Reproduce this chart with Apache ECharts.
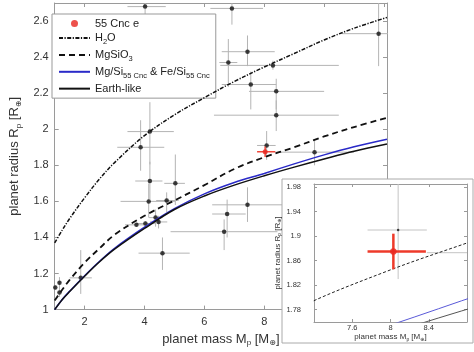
<!DOCTYPE html>
<html>
<head>
<meta charset="utf-8">
<script src="https://cdn.jsdelivr.net/npm/echarts@6.0.0/dist/echarts.min.js"></script>
<style>
  html, body { margin: 0; padding: 0; background: #fff; }
  #chart { width: 474px; height: 352px; }
</style>
</head>
<body>
<div id="chart"></div>
<script>
// mass-radius curves
const curveMass    = [1, 1.25, 1.5, 2, 2.5, 3, 4, 5, 6, 7, 8, 9, 10, 11, 12.1];
const radiusH2O    = [1.37, 1.44, 1.505, 1.62, 1.725, 1.815, 1.965, 2.08, 2.175, 2.265, 2.345, 2.42, 2.495, 2.56, 2.62];
const radiusMgSiO3 = [1.05, 1.11, 1.165, 1.26, 1.34, 1.415, 1.52, 1.605, 1.69, 1.78, 1.845, 1.9, 1.96, 2.012, 2.064];
const radiusMgSi55 = [1.0, 1.056, 1.102, 1.188, 1.268, 1.34, 1.457, 1.56, 1.642, 1.705, 1.755, 1.808, 1.858, 1.903, 1.945];
const radiusEarth  = [1.0, 1.055, 1.10, 1.185, 1.265, 1.335, 1.45, 1.555, 1.63, 1.69, 1.742, 1.79, 1.835, 1.878, 1.918];

// known planets with error bounds
const planetMass   = [1.02, 1.16, 1.16, 1.87, 4.18, 3.87, 4.18, 5.03, 4.14, 4.74, 3.73, 4.03, 4.37, 4.47, 4.60, 6.76, 6.66, 7.44, 8.40, 8.40, 8.29, 6.80, 7.55, 7.44, 6.92, 4.02, 11.82, 8.08, 9.68];
const planetRadius = [1.122, 1.149, 1.095, 1.176, 1.987, 1.90, 1.713, 1.70, 1.60, 1.605, 1.47, 1.477, 1.51, 1.486, 1.313, 1.53, 1.432, 1.581, 2.078, 2.21, 2.354, 2.37, 2.248, 2.43, 2.67, 2.68, 2.53, 1.91, 1.873];
const massLow      = [0.99, 1.12, 1.12, 1.50, 3.43, 3.09, 3.69, 4.66, 3.20, 4.39, 3.35, 3.75, 4.15, 4.18, 3.80, 6.26, 4.87, 6.26, 6.32, 7.49, 6.53, 6.50, 6.58, 6.58, 6.20, 3.43, 10.6, 7.76, 8.38];
const massHigh     = [1.05, 1.20, 1.20, 2.24, 4.98, 4.66, 4.60, 5.35, 5.03, 5.14, 4.05, 4.35, 4.60, 4.76, 5.51, 7.38, 8.44, 8.61, 10.49, 10.0, 10.49, 7.10, 8.40, 8.35, 7.96, 4.71, 13.0, 8.38, 11.0];
const radiusLow    = [1.11, 1.12, 1.07, 1.087, 1.805, 1.77, 1.61, 1.58, 1.51, 1.54, 1.46, 1.465, 1.46, 1.45, 1.22, 1.40, 1.33, 1.486, 1.99, 2.11, 2.33, 2.235, 2.11, 2.35, 2.58, 2.61, 2.35, 1.83, 1.80];
const radiusHigh   = [1.135, 1.18, 1.12, 1.33, 2.15, 2.05, 1.82, 1.86, 1.70, 1.65, 1.48, 1.49, 1.555, 1.52, 1.40, 1.61, 1.50, 1.678, 2.16, 2.28, 2.38, 2.50, 2.32, 2.52, 2.75, 2.75, 2.70, 1.99, 1.94];

// 55 Cnc e
const cncMass = [8.03], cncRadius = [1.875];
const cncMassLow = [7.76], cncMassHigh = [8.37];
const cncRadiusLow = [1.846], cncRadiusHigh = [1.904];

// ticks
const xTicks = [2, 4, 6, 8, 10, 12];
const yTicks = [1, 1.2, 1.4, 1.6, 1.8, 2, 2.2, 2.4, 2.6];
const insetXTicks = [7.6, 8, 8.4];
const insetYTicks = [1.78, 1.82, 1.86, 1.9, 1.94, 1.98];

const FONT = '"Liberation Sans", "DejaVu Sans", sans-serif';
const AXIS_GREY = '#9a9a9a';

const curvePts = r => curveMass.map((m, i) => [m, r[i]]);
const planetRows = planetMass.map((m, i) => [m, planetRadius[i], massLow[i], massHigh[i], radiusLow[i], radiusHigh[i]]);
const cncRows = cncMass.map((m, i) => [m, cncRadius[i], cncMassLow[i], cncMassHigh[i], cncRadiusLow[i], cncRadiusHigh[i]]);

function errorBars(color, width) {
  return function (params, api) {
    const x = api.value(0), y = api.value(1);
    const a = api.coord([api.value(2), y]), b = api.coord([api.value(3), y]);
    const c = api.coord([x, api.value(4)]), d = api.coord([x, api.value(5)]);
    const st = { stroke: color, lineWidth: width };
    return {
      type: 'group',
      children: [
        { type: 'line', shape: { x1: a[0], y1: a[1], x2: b[0], y2: b[1] }, style: st },
        { type: 'line', shape: { x1: c[0], y1: c[1], x2: d[0], y2: d[1] }, style: st }
      ]
    };
  };
}

function richName(text, sub, unit, size, lh) {
  return {
    name: '{n|' + text + '}{s|' + sub + '}{n| [' + unit + '}{s|⊕}{n|]}',
    nameTextStyle: { rich: {
      n: { fontSize: size, fontFamily: FONT, color: '#333', lineHeight: lh },
      s: { fontSize: size * 0.62, fontFamily: FONT, color: '#333', lineHeight: lh, verticalAlign: 'bottom' }
    } }
  };
}

function axis(opts) {
  const o = {
    type: 'value',
    gridIndex: opts.grid,
    position: opts.pos,
    min: opts.min, max: opts.max,
    z: opts.z || 0,
    axisLine: { show: true, onZero: false, lineStyle: { color: AXIS_GREY, width: 1 } },
    axisTick: { show: true, inside: true, length: opts.tick, customValues: opts.ticks, lineStyle: { color: AXIS_GREY } },
    axisLabel: opts.labels
      ? { show: true, customValues: opts.ticks, fontSize: opts.font, fontFamily: FONT, color: '#333', margin: opts.margin }
      : { show: false },
    splitLine: { show: false }
  };
  if (opts.name) Object.assign(o, opts.name, { nameLocation: 'middle', nameGap: opts.gap });
  return o;
}

const legendLabels = {
  '55 Cnc e': '{n|55 Cnc e}',
  'H2O': '{n|H}{s|2}{n|O}',
  'MgSiO3': '{n|MgSiO}{s|3}',
  'MgSi': '{n|Mg/Si}{s|55 Cnc}{n| & Fe/Si}{s|55 Cnc}',
  'Earth-like': '{n|Earth-like}'
};
const noMarker = { opacity: 0 };

const chart = echarts.init(document.getElementById('chart'));

const option = {
  animation: false,
  backgroundColor: '#fff',
  grid: [
    { left: 41, top: 3, width: 346, height: 311 },
    { left: 314, top: 184, width: 153, height: 138, z: 60 }
  ],
  xAxis: [
    axis({ grid: 0, pos: 'bottom', min: 1, max: 12.1, ticks: xTicks, tick: 4, labels: true, font: 11, margin: 7,
           name: richName('planet mass M', 'p', 'M', 13, 16), gap: 20 }),
    axis({ grid: 0, pos: 'top', min: 1, max: 12.1, ticks: xTicks, tick: 4, labels: false }),
    axis({ grid: 1, pos: 'bottom', min: 7.2, max: 8.8, ticks: insetXTicks, tick: 3, labels: true, font: 7.5, margin: 2,
           name: richName('planet mass M', 'p', 'M', 8, 10), gap: 8, z: 60 }),
    axis({ grid: 1, pos: 'top', min: 7.2, max: 8.8, ticks: insetXTicks, tick: 3, labels: false, z: 60 })
  ],
  yAxis: [
    axis({ grid: 0, pos: 'left', min: 1, max: 2.7, ticks: yTicks, tick: 4, labels: true, font: 11, margin: 6,
           name: richName('planet radius R', 'p', 'R', 13, 16), gap: 18 }),
    axis({ grid: 0, pos: 'right', min: 1, max: 2.7, ticks: yTicks, tick: 4, labels: false }),
    axis({ grid: 1, pos: 'left', min: 1.76, max: 1.985, ticks: insetYTicks, tick: 3, labels: true, font: 7.5, margin: 13,
           name: richName('planet radius R', 'p', 'R', 8, 10), gap: 25, z: 60 }),
    axis({ grid: 1, pos: 'right', min: 1.76, max: 1.985, ticks: insetYTicks, tick: 3, labels: false, z: 60 })
  ],
  legend: {
    left: 52, top: 14,
    orient: 'vertical',
    padding: [4, 6, 4, 6],
    itemGap: 3.6,
    itemWidth: 31, itemHeight: 7,
    backgroundColor: '#fff',
    borderColor: '#999', borderWidth: 1, borderRadius: 0,
    data: [
      { name: '55 Cnc e', icon: 'circle' },
      { name: 'H2O', itemStyle: noMarker },
      { name: 'MgSiO3', itemStyle: noMarker },
      { name: 'MgSi', itemStyle: noMarker },
      { name: 'Earth-like', itemStyle: noMarker }
    ],
    formatter: name => legendLabels[name],
    textStyle: { rich: {
      n: { fontSize: 11, fontFamily: FONT, color: '#222', lineHeight: 15.5 },
      s: { fontSize: 7.5, fontFamily: FONT, color: '#222', lineHeight: 15.5, verticalAlign: 'bottom' }
    } }
  },
  graphic: [
    { type: 'rect', z: 50, shape: { x: 282, y: 179, width: 191, height: 164 },
      style: { fill: '#fff', stroke: '#aaa', lineWidth: 1 } }
  ],
  series: [
    // main panel
    { type: 'custom', name: 'main-err', xAxisIndex: 0, yAxisIndex: 0, clip: true, z: 2,
      renderItem: errorBars('#b4b4b4', 1), encode: { x: 0, y: 1 }, data: planetRows },
    { type: 'scatter', name: 'main-pts', xAxisIndex: 0, yAxisIndex: 0, z: 3, symbolSize: 4.5,
      itemStyle: { color: '#111' }, data: planetRows.map(r => [r[0], r[1]]) },
    { type: 'line', name: 'H2O', xAxisIndex: 0, yAxisIndex: 0, z: 4, symbol: 'none', smooth: 0.35,
      lineStyle: { color: '#111', width: 1.5, type: [4, 1.5, 1.2, 1.5] }, itemStyle: { color: '#111' },
      data: curvePts(radiusH2O) },
    { type: 'line', name: 'MgSiO3', xAxisIndex: 0, yAxisIndex: 0, z: 4, symbol: 'none', smooth: 0.35,
      lineStyle: { color: '#111', width: 1.8, type: [6, 4] }, itemStyle: { color: '#111' },
      data: curvePts(radiusMgSiO3) },
    { type: 'line', name: 'MgSi', xAxisIndex: 0, yAxisIndex: 0, z: 4, symbol: 'none', smooth: 0.35,
      lineStyle: { color: '#2a2ac8', width: 1.5 }, itemStyle: { color: '#2a2ac8' },
      data: curvePts(radiusMgSi55) },
    { type: 'line', name: 'Earth-like', xAxisIndex: 0, yAxisIndex: 0, z: 4, symbol: 'none', smooth: 0.35,
      lineStyle: { color: '#111', width: 1.5 }, itemStyle: { color: '#111' },
      data: curvePts(radiusEarth) },
    { type: 'custom', name: 'cnc-err', xAxisIndex: 0, yAxisIndex: 0, clip: true, z: 5,
      renderItem: errorBars('#f0473a', 1.5), encode: { x: 0, y: 1 }, data: cncRows },
    { type: 'scatter', name: '55 Cnc e', xAxisIndex: 0, yAxisIndex: 0, z: 6, symbolSize: 5,
      itemStyle: { color: '#e8251f' }, data: cncRows.map(r => [r[0], r[1]]) },

    // inset
    { type: 'custom', name: 'in-err', xAxisIndex: 2, yAxisIndex: 2, clip: true, z: 61,
      renderItem: errorBars('#c4c4c4', 1), encode: { x: 0, y: 1 }, data: planetRows },
    { type: 'scatter', name: 'in-pts', xAxisIndex: 2, yAxisIndex: 2, clip: true, z: 62, symbolSize: 2.5,
      itemStyle: { color: '#111' }, data: planetRows.map(r => [r[0], r[1]]) },
    { type: 'line', name: 'in-MgSiO3', xAxisIndex: 2, yAxisIndex: 2, z: 63, symbol: 'none', smooth: 0.35,
      lineStyle: { color: '#222', width: 1, type: [3, 2] }, data: curvePts(radiusMgSiO3) },
    { type: 'line', name: 'in-MgSi', xAxisIndex: 2, yAxisIndex: 2, z: 63, symbol: 'none', smooth: 0.35,
      lineStyle: { color: '#5a5ad8', width: 1 }, data: curvePts(radiusMgSi55) },
    { type: 'line', name: 'in-Earth', xAxisIndex: 2, yAxisIndex: 2, z: 63, symbol: 'none', smooth: 0.35,
      lineStyle: { color: '#555', width: 1 }, data: curvePts(radiusEarth) },
    { type: 'custom', name: 'in-cnc-err', xAxisIndex: 2, yAxisIndex: 2, clip: true, z: 64,
      renderItem: errorBars('#ee3a2a', 2.5), encode: { x: 0, y: 1 }, data: cncRows },
    { type: 'scatter', name: 'in-cnc', xAxisIndex: 2, yAxisIndex: 2, clip: true, z: 65, symbolSize: 6.5,
      itemStyle: { color: '#e8251f' }, data: cncRows.map(r => [r[0], r[1]]) }
  ]
};

chart.setOption(option);
</script>
</body>
</html>
